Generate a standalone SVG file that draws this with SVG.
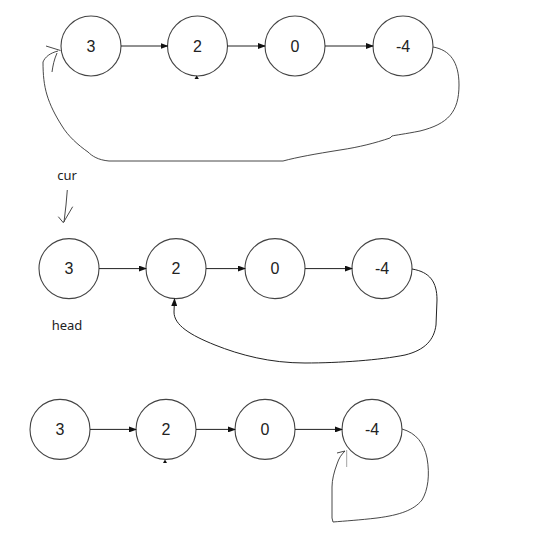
<svg xmlns="http://www.w3.org/2000/svg" width="533" height="540" viewBox="0 0 533 540">
<defs>
<marker id="ah" markerWidth="8" markerHeight="6" refX="7" refY="3" orient="auto" markerUnits="userSpaceOnUse">
<path d="M0,0 L8,3 L0,6 Z" fill="#111"/>
</marker>
<style>
.node circle{fill:#fff;stroke:#444;stroke-width:1.1}
.node text{font-family:"Liberation Sans",Arial,sans-serif;font-size:16px;fill:#222;text-anchor:middle;dominant-baseline:central}
.edge{stroke:#222;stroke-width:1;fill:none}
.hand{stroke:#333;stroke-width:0.9;fill:none}
.lbl{font-family:"Noto Sans","Open Sans",sans-serif;font-size:13px;fill:#222;text-anchor:middle}
</style>
</defs>
<rect width="533" height="540" fill="#fff"/>

<!-- Row 1 -->
<g id="r1n3" class="node"><circle cx="91" cy="46" r="30"/><text x="91" y="46">3</text></g>
<g id="r1n2" class="node"><circle cx="197.5" cy="46" r="30"/><text x="197.5" y="46">2</text></g>
<g id="r1n0" class="node"><circle cx="295" cy="46" r="30"/><text x="295" y="46">0</text></g>
<g id="r1n4" class="node"><circle cx="403" cy="46" r="30"/><text x="403" y="46">-4</text></g>

<!-- Row 2 -->
<g id="r2n3" class="node"><circle cx="69" cy="268.6" r="30"/><text x="69" y="268.6">3</text></g>
<g id="r2n2" class="node"><circle cx="176" cy="268.6" r="30"/><text x="176" y="268.6">2</text></g>
<g id="r2n0" class="node"><circle cx="275" cy="268.6" r="30"/><text x="275" y="268.6">0</text></g>
<g id="r2n4" class="node"><circle cx="382" cy="268.6" r="30"/><text x="382" y="268.6">-4</text></g>

<!-- Row 3 -->
<g id="r3n3" class="node"><circle cx="60" cy="429.4" r="30"/><text x="60" y="429.4">3</text></g>
<g id="r3n2" class="node"><circle cx="166" cy="429.4" r="30"/><text x="166" y="429.4">2</text></g>
<g id="r3n0" class="node"><circle cx="265" cy="429.4" r="30"/><text x="265" y="429.4">0</text></g>
<g id="r3n4" class="node"><circle cx="372" cy="429.4" r="30"/><text x="372" y="429.4">-4</text></g>

<g id="labels">
<text class="lbl" x="67" y="180">cur</text>
<text class="lbl" x="67" y="330">head</text>
</g>

<g id="connectors">
<!-- row 1 straight -->
<line class="edge" x1="121" y1="46" x2="167.5" y2="46" marker-end="url(#ah)"/>
<line class="edge" x1="227.5" y1="46" x2="265" y2="46" marker-end="url(#ah)"/>
<line class="edge" x1="325" y1="46" x2="373" y2="46" marker-end="url(#ah)"/>
<!-- row 1 loop (hand drawn) -->
<path class="hand" d="M433,47 C450,50 459,62 459,85 C459,112 448,124 420,131 C405,134 396,135 392,136 L390,138 C375,143 360,147 340,150 C315,154 298,157 283,161 L109,161 C98,160 92,156 88,152 C78,145 68,136 62,126 C55,115 50,105 47,95 C44,85 43,75 43,62 C45,57 50,53 58,51"/>
<path class="hand" d="M46,46 L60.5,50.5 M52,72 C53,65 54,60 57,53"/>
<path d="M194.5,79 L196.7,75.5 L198.9,79 Z" fill="#111"/>

<!-- row 2 straight -->
<line class="edge" x1="99" y1="268.6" x2="146" y2="268.6" marker-end="url(#ah)"/>
<line class="edge" x1="206" y1="268.6" x2="245" y2="268.6" marker-end="url(#ah)"/>
<line class="edge" x1="305" y1="268.6" x2="352" y2="268.6" marker-end="url(#ah)"/>
<!-- row 2 loop -->
<path class="edge" d="M412,269 C430,272 437,282 437,300 L436,325 C434,340 425,350 405,355 C380,360 340,363 305,363 C270,363 240,355 215,345 C190,335 174,325 174,312 L174.5,299" marker-end="url(#ah)"/>

<!-- cur arrow (hand drawn) -->
<path class="hand" d="M67.3,190 L66,205 L64,222 M58.3,216.7 L63.3,222.7 L72.7,206.7"/>

<!-- row 3 straight -->
<line class="edge" x1="90" y1="429.4" x2="136" y2="429.4" marker-end="url(#ah)"/>
<line class="edge" x1="196" y1="429.4" x2="235" y2="429.4" marker-end="url(#ah)"/>
<line class="edge" x1="295" y1="429.4" x2="342" y2="429.4" marker-end="url(#ah)"/>
<!-- row 3 self loop (hand drawn) -->
<path class="hand" d="M402,429 C416,433 424,443 427,458 C430,475 428,490 422,500 C414,510 400,515 377,518 C360,520 345,521 333,522 L332,518 L332,487 C332,480 334,472 337,464 C339,458 341,455 345,451"/>
<path class="hand" d="M337,453 L345,451"/>
<line x1="346.7" y1="450" x2="346.7" y2="467" stroke="#999" stroke-width="0.9"/>
<path d="M163,463 L165,459.5 L167,463 Z" fill="#111"/>
</g>
</svg>
